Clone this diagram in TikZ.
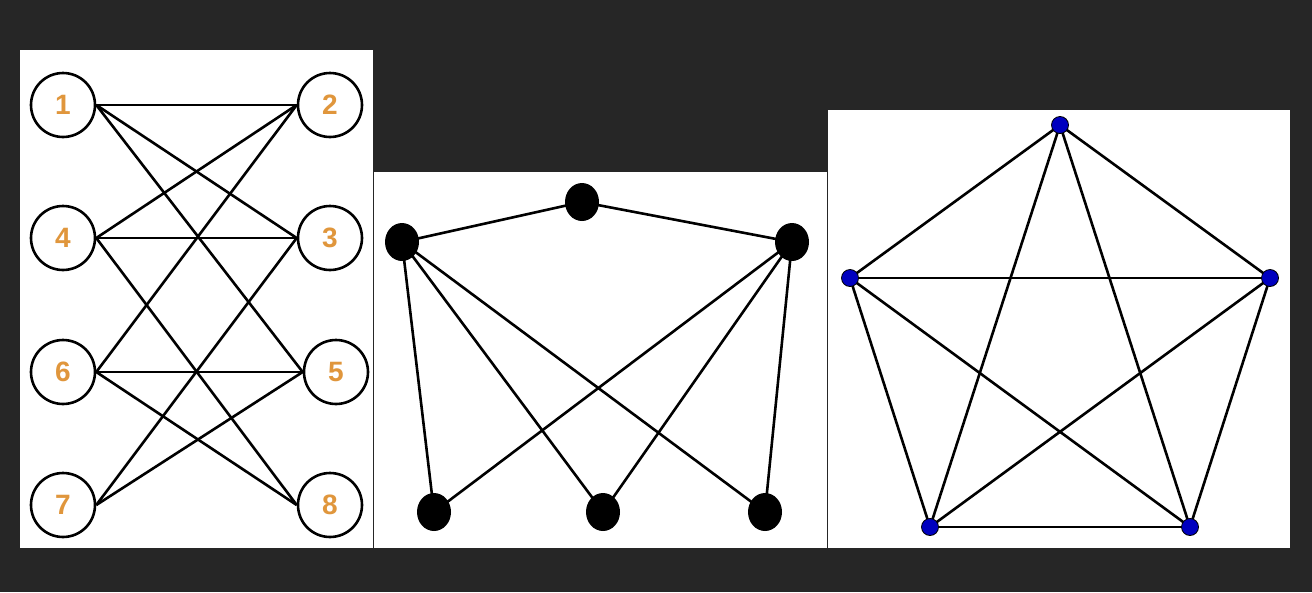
\documentclass[tikz,border=0pt]{standalone}
\usepackage{fontspec}
\setmainfont{Liberation Sans}
\usetikzlibrary{shapes.geometric}
\begin{document}
\begin{tikzpicture}[x=1pt,y=-1pt,
  cnode/.style={circle,draw=black,line width=2.6pt,fill=white,minimum size=64pt,inner sep=0pt,font=\bfseries\fontsize{28}{28}\selectfont,text=numorange},
  bnode/.style={ellipse,fill=black,minimum width=34pt,minimum height=38pt,inner sep=0pt},
  vnode/.style={circle,fill=blue!75!black,draw=black,line width=0.8pt,minimum size=17pt,inner sep=0pt},
  edge/.style={line width=2.6pt,black}]
\definecolor{numorange}{HTML}{E0963C}
\fill[fill={rgb,255:red,38;green,38;blue,38}] (0,0) rectangle (1312,592);
\useasboundingbox (0,0) rectangle (1312,592);
\fill[white] (20,50) rectangle (373,548);
\fill[white] (374,172) rectangle (827,548);
\fill[white] (828,110) rectangle (1290,548);
% left
\begin{scope}
\clip (20,50) rectangle (373,548);
\node[cnode] (n1) at (63,105) {1};
\node[cnode] (n2) at (330,105) {2};
\node[cnode] (n4) at (63,238) {4};
\node[cnode] (n3) at (330,238) {3};
\node[cnode] (n6) at (63,372) {6};
\node[cnode] (n5) at (336,372) {5};
\node[cnode] (n7) at (63,505) {7};
\node[cnode] (n8) at (330,505) {8};
\foreach \a/\b in {n1/n2,n1/n3,n1/n5,n4/n2,n4/n3,n4/n8,n6/n2,n6/n5,n6/n8,n7/n3,n7/n5}
  \draw[edge] (\a.east) -- (\b.west);
\end{scope}
% middle
\node[bnode] (t) at (582,202) {};
\node[bnode] (l) at (402,242) {};
\node[bnode] (r) at (792,242) {};
\node[bnode] (b1) at (434,512) {};
\node[bnode] (b2) at (603,512) {};
\node[bnode] (b3) at (765,512) {};
\foreach \a/\b in {l/t,t/r,l/b1,l/b2,l/b3,r/b1,r/b2,r/b3}
  \draw[edge] (\a.center) -- (\b.center);
% right
\coordinate (p1) at (1060,125);
\coordinate (p2) at (850,278);
\coordinate (p3) at (1270,278);
\coordinate (p4) at (930,527);
\coordinate (p5) at (1190,527);
\foreach \a/\b in {p1/p2,p1/p3,p1/p4,p1/p5,p2/p3,p2/p4,p2/p5,p3/p4,p3/p5,p4/p5}
  \draw[edge] (\a) -- (\b);
\foreach \p in {p1,p2,p3,p4,p5}
  \node[vnode] (v\p) at (\p) {};
\end{tikzpicture}
\end{document}
